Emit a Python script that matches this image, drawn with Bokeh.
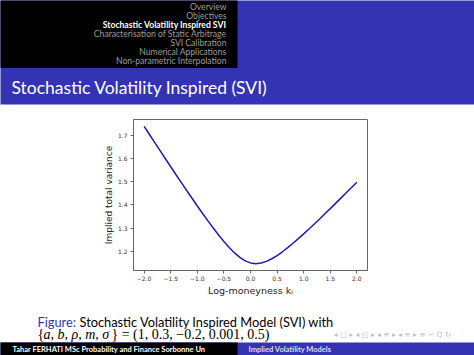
from bokeh.plotting import figure
from bokeh.models import Range1d, FixedTicker, CustomJSTickFormatter
from bokeh.core.properties import value
from bokeh.embed import file_html
from bokeh.resources import INLINE

# ---------------- data ----------------
log_moneyness = [-2.0, -1.9, -1.8, -1.7, -1.6, -1.5, -1.4, -1.3, -1.2, -1.1,
                 -1.0, -0.9, -0.8, -0.7, -0.6, -0.5, -0.4, -0.3, -0.2, -0.1,
                 0.0, 0.1, 0.2, 0.3, 0.4, 0.5, 0.6, 0.7, 0.8, 0.9,
                 1.0, 1.1, 1.2, 1.3, 1.4, 1.5, 1.6, 1.7, 1.8, 1.9, 2.0]
total_variance = [1.7388, 1.7038, 1.6688, 1.6339, 1.5992, 1.5647, 1.5303, 1.4962, 1.4623, 1.4288,
                  1.3957, 1.3632, 1.3313, 1.3004, 1.2706, 1.2424, 1.2163, 1.1931, 1.1737, 1.1591,
                  1.1501, 1.1470, 1.1495, 1.1568, 1.1680, 1.1820, 1.1981, 1.2159, 1.2348, 1.2547,
                  1.2752, 1.2963, 1.3178, 1.3396, 1.3618, 1.3841, 1.4067, 1.4294, 1.4522, 1.4752,
                  1.4982]
x_ticks = [-2.0, -1.5, -1.0, -0.5, 0.0, 0.5, 1.0, 1.5, 2.0]
y_ticks = [1.2, 1.3, 1.4, 1.5, 1.6, 1.7]
nav_sections = ["Overview", "Objectives", "Stochastic Volatility Inspired SVI",
                "Characterisation of Static Arbitrage", "SVI Calibration",
                "Numerical Applications", "Non-parametric Interpolation"]
current_section = 2
slide_title = "Stochastic Volatility Inspired (SVI)"
footer_left = "Tahar FERHATI MSc Probability and Finance  Sorbonne Un"
footer_right = "Implied Volatility Models"

W, H = 474, 355
FL, FR, FT, FB = 133, 367, 119, 270   # chart frame box on the slide (pixels)
BLUE = "#3333b3"
SANS = "Lato"

p = figure(width=W, height=H, x_range=Range1d(-2.2, 2.2), y_range=Range1d(1.1174, 1.7684),
           toolbar_location=None, output_backend="svg",
           min_border_left=FL, min_border_right=W - FR, min_border_top=FT,
           min_border_bottom=H - FB)
p.grid.visible = False
p.outline_line_color = "#666666"
p.border_fill_color = "white"
p.background_fill_color = "white"

# slide coordinates (pixels from top-left) for the beamer decorations
p.extra_x_ranges = {"px": Range1d(FL, FR)}
p.extra_y_ranges = {"py": Range1d(FB, FT)}
deco = dict(x_range_name="px", y_range_name="py", level="overlay")

# ---------------- chart ----------------
p.line(log_moneyness, total_variance, line_color="#1c1cb8", line_width=1.5)
fmt = CustomJSTickFormatter(code="return (tick < 0 ? '\u2212' : '') + Math.abs(tick).toFixed(1);")
for ax, ticks in ((p.xaxis[0], x_ticks), (p.yaxis[0], y_ticks)):
    ax.ticker = FixedTicker(ticks=ticks)
    ax.formatter = fmt
    ax.axis_line_color = "#666666"
    ax.major_tick_line_color = "#666666"
    ax.major_tick_out = 3
    ax.major_tick_in = 0
    ax.minor_tick_line_color = None
    ax.major_label_text_font = "DejaVu Sans"
    ax.major_label_text_font_size = "6px"
    ax.major_label_text_color = "#333333"
    ax.axis_label_text_font = "DejaVu Sans"
    ax.axis_label_text_font_style = "normal"
    ax.axis_label_text_color = "#222222"
p.xaxis.axis_label = "Log-moneyness k\u1d62"
p.yaxis.axis_label = "Implied total variance"
p.xaxis.axis_label_text_font_size = "9.5px"
p.yaxis.axis_label_text_font_size = "9px"
p.xaxis.major_label_standoff = 2
p.xaxis.axis_label_standoff = 1
p.yaxis.major_label_standoff = 3
p.yaxis.axis_label_standoff = 1

# ---------------- header + title bar ----------------
p.quad(left=[0], right=[W], top=[0], bottom=[104], color=BLUE, line_color=None, **deco)
p.quad(left=[0], right=[237], top=[0], bottom=[67.5], color="black", line_color=None, **deco)
for i, s in enumerate(nav_sections):
    active = i == current_section
    p.text(x=[226], y=[6 + 9.1 * i], text=[s], text_align="right", text_baseline="middle",
           text_font=value(SANS), text_font_size=value("8.6px"),
           text_font_style="bold" if active else "normal",
           text_color="white" if active else "#9c9c9c", **deco)
p.text(x=[11], y=[87], text=[slide_title], text_align="left", text_baseline="middle",
       text_font=value(SANS), text_font_size=value("17.5px"), text_color="white", **deco)

# ---------------- caption ----------------
p.text(x=[37], y=[321], text=["Figure:"], text_baseline="middle",
       text_font=value(SANS), text_font_size=value("12.8px"), text_color=BLUE, **deco)
p.text(x=[79], y=[321], text=["Stochastic Volatility Inspired Model (SVI) with"],
       text_baseline="middle", text_font=value(SANS), text_font_size=value("12.8px"),
       text_color="black", **deco)
p.text(x=[37], y=[334], text=["{"], text_baseline="middle",
       text_font=value("Liberation Serif"), text_font_size=value("14px"), text_color="black", **deco)
p.text(x=[43], y=[334], text=["a, b, \u03c1, m, \u03c3"], text_baseline="middle",
       text_font=value("Liberation Serif"), text_font_size=value("14px"),
       text_font_style="italic", text_color="black", **deco)
p.text(x=[111], y=[334], text=["} = (1, 0.3, \u22120.2, 0.001, 0.5)"], text_baseline="middle",
       text_font=value("Liberation Serif"), text_font_size=value("14px"), text_color="black", **deco)
p.text(x=[472], y=[334], text=["\u25c2 \u25a1 \u25b8  \u25c2 \u25f0 \u25b8  \u25c2 \u2261 \u25b8  \u25c2 \u2261 \u25b8    \u2261    \u223d Q \u21bb"],
       text_align="right", text_baseline="middle",
       text_font=value("DejaVu Sans"), text_font_size=value("7.5px"), text_color="#bcbccc", **deco)

# ---------------- footer ----------------
p.quad(left=[0], right=[W], top=[342], bottom=[355], color=BLUE, line_color=None, **deco)
p.quad(left=[0], right=[237], top=[342], bottom=[355], color="black", line_color=None, **deco)
p.text(x=[12], y=[348.5], text=[footer_left], text_baseline="middle",
       text_font=value(SANS), text_font_size=value("7.5px"), text_font_style="bold",
       text_color="white", **deco)
p.text(x=[248], y=[348.5], text=[footer_right], text_baseline="middle",
       text_font=value(SANS), text_font_size=value("7.5px"), text_font_style="bold",
       text_color="#dcdcf2", **deco)

open("out.html", "w").write(file_html(p, INLINE))
